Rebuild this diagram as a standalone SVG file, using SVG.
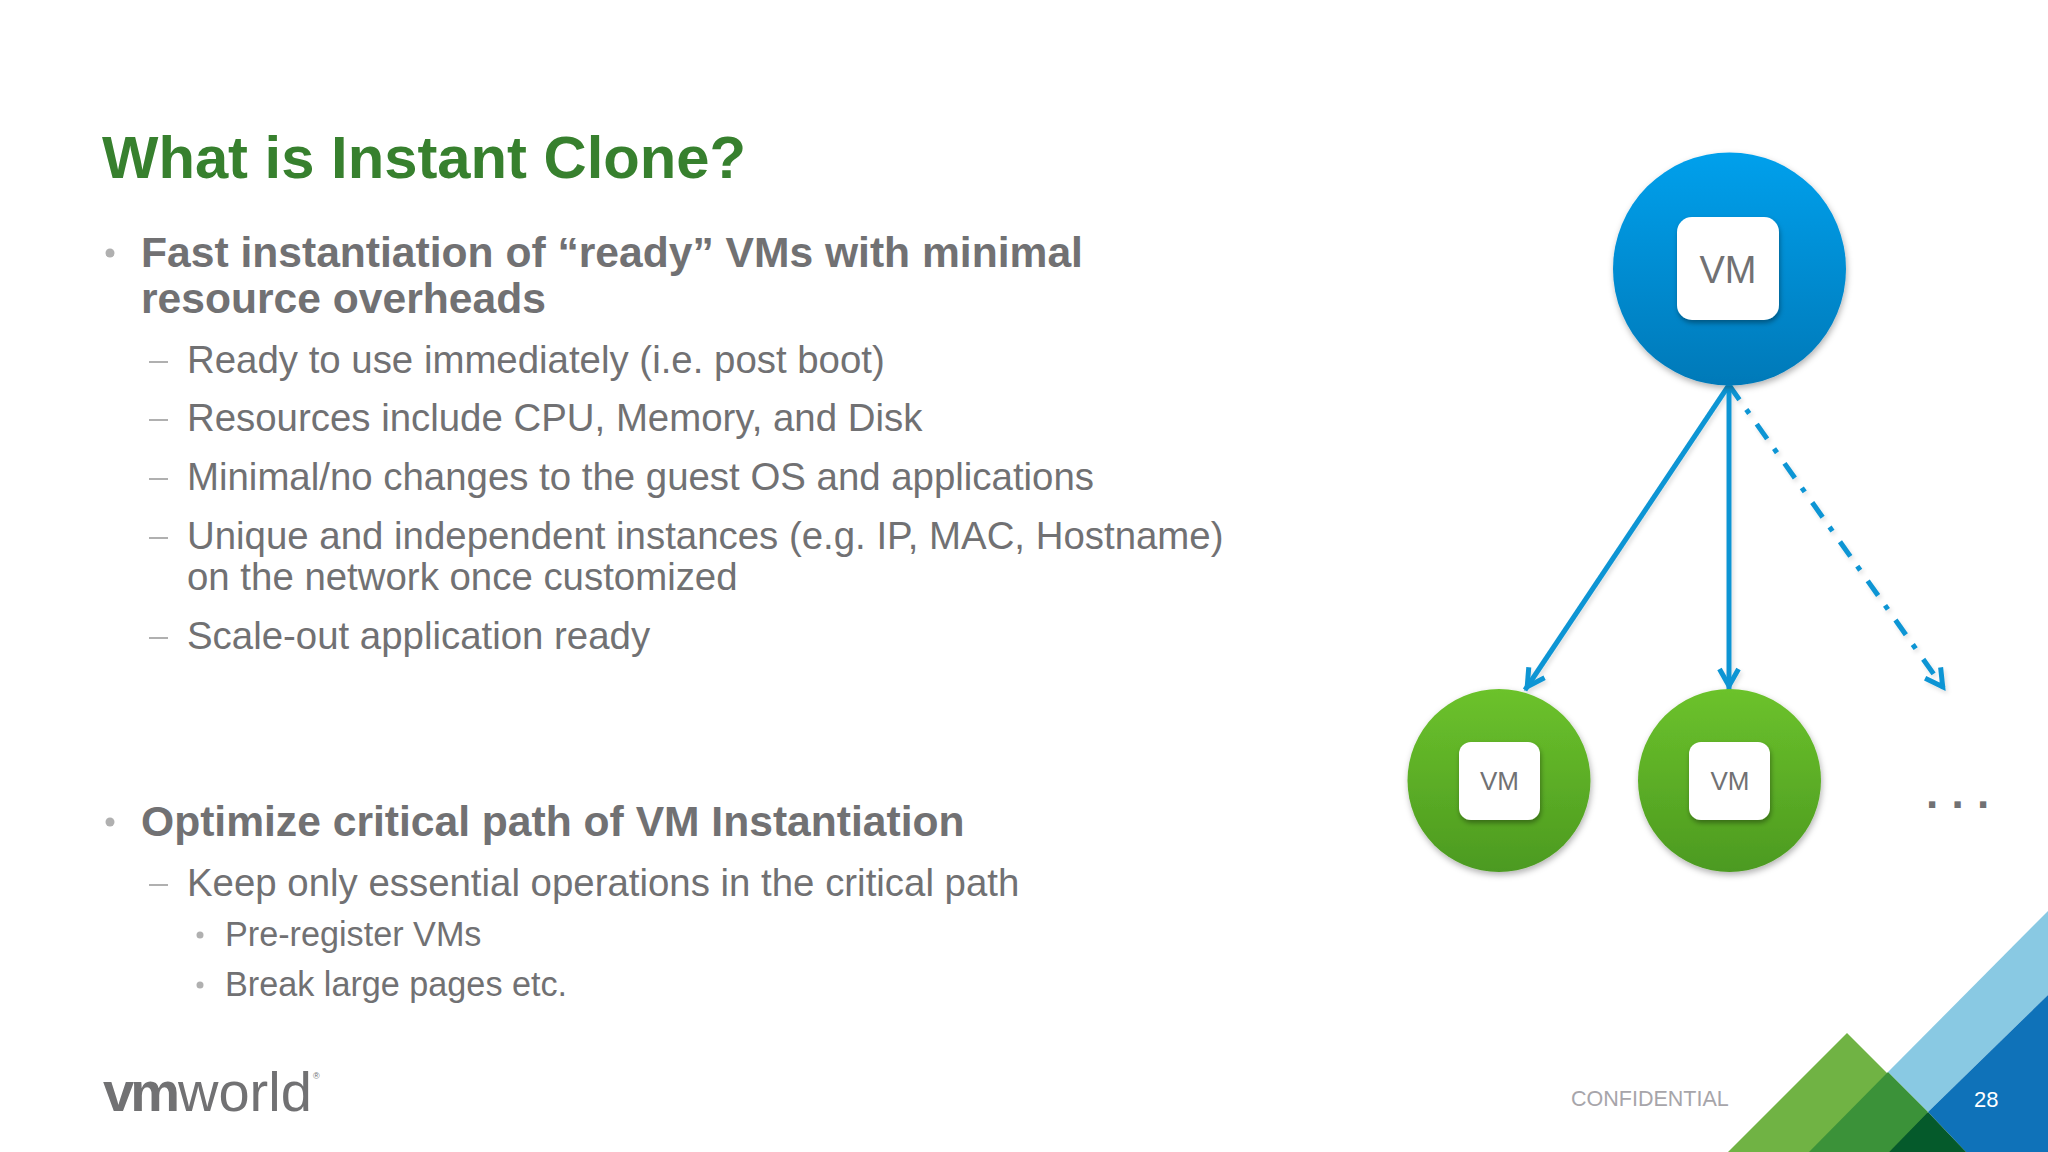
<svg xmlns="http://www.w3.org/2000/svg" width="2048" height="1152" viewBox="0 0 2048 1152">
<style>
text{font-family:"Liberation Sans",Arial,sans-serif;fill:#717173}
.t{font-size:59.75px;font-weight:700;fill:#37802e}
.a{font-size:42.6px;font-weight:700}
.b{font-size:38.4px}
.c{font-size:34.2px}
.vl{font-size:38px;text-anchor:middle}
.vs{font-size:26px;text-anchor:middle}
.l{fill:none;stroke:#0e95d4;stroke-width:5;stroke-linecap:butt}
.bu{fill:#b0b0b0}
.sq{fill:#fff;filter:url(#s2)}
</style>
<defs>
<linearGradient id="gb" x1="0" y1="0" x2="0" y2="1"><stop offset="0" stop-color="#04a0ec"/><stop offset="1" stop-color="#0079b8"/></linearGradient>
<linearGradient id="gg" x1="0" y1="0" x2="0" y2="1"><stop offset="0" stop-color="#6cc22c"/><stop offset="1" stop-color="#4c9a20"/></linearGradient>
<filter id="s1" x="-20%" y="-20%" width="140%" height="140%"><feDropShadow dx="1" dy="3" stdDeviation="3" flood-color="#000" flood-opacity=".3"/></filter>
<filter id="s2" x="-20%" y="-20%" width="140%" height="140%"><feDropShadow dx="1" dy="3" stdDeviation="2.5" flood-color="#000" flood-opacity=".35"/></filter>
<filter id="s3" filterUnits="userSpaceOnUse" x="1500" y="360" width="470" height="350"><feDropShadow dx="2" dy="3" stdDeviation="2" flood-color="#000" flood-opacity=".12"/></filter>
<marker id="ar" markerUnits="userSpaceOnUse" markerWidth="32" markerHeight="30" refX="27" refY="12" orient="auto"><path d="M6 2.5 L23 12 L6 21.5" fill="none" stroke="#0e95d4" stroke-width="5"/></marker>
</defs>
<rect width="2048" height="1152" fill="#fff"/>
<text class="t" x="102" y="178">What is Instant Clone?</text>
<g id="bullets">
<circle class="bu" cx="110" cy="253" r="4.5"/>
<circle class="bu" cx="110" cy="822" r="4.5"/>
<circle class="bu" cx="200" cy="935" r="3.5"/>
<circle class="bu" cx="200" cy="985" r="3.5"/>
<path d="M149 362H168M149 420H168M149 479H168M149 538H168M149 638H168M149 885H168" stroke="#b0b0b0" stroke-width="2" fill="none"/>
</g>
<text class="a" x="141" y="267">Fast instantiation of “ready” VMs with minimal</text>
<text class="a" x="141" y="313">resource overheads</text>
<text class="b" x="187" y="373">Ready to use immediately (i.e. post boot)</text>
<text class="b" x="187" y="431">Resources include CPU, Memory, and Disk</text>
<text class="b" x="187" y="490">Minimal/no changes to the guest OS and applications</text>
<text class="b" x="187" y="549">Unique and independent instances (e.g. IP, MAC, Hostname)</text>
<text class="b" x="187" y="590">on the network once customized</text>
<text class="b" x="187" y="649">Scale-out application ready</text>
<text class="a" x="141" y="836">Optimize critical path of VM Instantiation</text>
<text class="b" x="187" y="896">Keep only essential operations in the critical path</text>
<text class="c" x="225" y="946">Pre-register VMs</text>
<text class="c" x="225" y="996">Break large pages etc.</text>
<g id="connectors" filter="url(#s3)">
<path class="l" marker-end="url(#ar)" d="M1729 385L1525 690"/>
<path class="l" marker-end="url(#ar)" d="M1729 385V690"/>
<path class="l" marker-end="url(#ar)" stroke-dasharray="18 12 5 13" d="M1729 385L1945 690"/>
</g>
<g id="vm-parent"><circle cx="1729.5" cy="269" r="116.5" fill="url(#gb)" filter="url(#s1)"/><rect class="sq" x="1677" y="217" width="102" height="103" rx="15"/><text class="vl" x="1728" y="283">VM</text></g>
<g id="vm-clone-1"><circle cx="1499" cy="780.5" r="91.5" fill="url(#gg)" filter="url(#s1)"/><rect class="sq" x="1459" y="742" width="81" height="78" rx="12"/><text class="vs" x="1499.5" y="790">VM</text></g>
<g id="vm-clone-2"><circle cx="1729.5" cy="780.5" r="91.5" fill="url(#gg)" filter="url(#s1)"/><rect class="sq" x="1689" y="742" width="81" height="78" rx="12"/><text class="vs" x="1730" y="790">VM</text></g>
<text x="1926" y="808" style="font-size:44px;font-weight:700;letter-spacing:13.3px">...</text>
<g id="corner">
<path fill="#70b344" d="M1847 1033L1966 1152H1728Z"/>
<path fill="#89c9e3" d="M2048 911L1888 1072L1928 1112L2048 995Z"/>
<path fill="#0f72b9" d="M2048 995L1928 1112L1966 1152H2048Z"/>
<path fill="#3b9239" d="M1888 1072L1928 1112L1889 1152H1809Z"/>
<path fill="#055a2b" d="M1928 1112L1966 1152H1889Z"/>
</g>
<text x="1571" y="1106" style="font-size:21.5px;fill:#a7a5aa">CONFIDENTIAL</text>
<text x="1974" y="1107" style="font-size:22px;fill:#fff">28</text>
<g id="logo"><text x="103" y="1111" style="font-size:56px;font-weight:700;letter-spacing:-4px">vm</text><text x="178" y="1111" style="font-size:56px;fill:#717173">world</text><text x="313" y="1079" style="font-size:9px">®</text></g>
</svg>
